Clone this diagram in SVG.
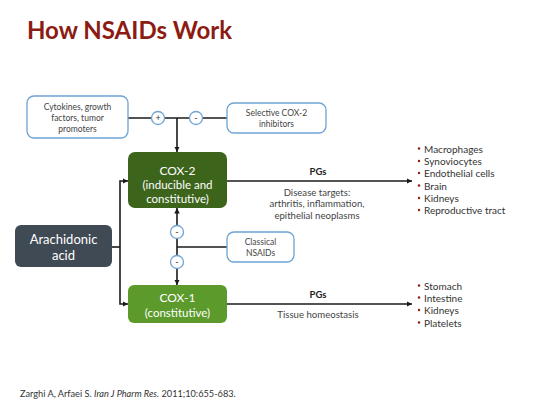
<svg xmlns="http://www.w3.org/2000/svg" width="540" height="405" viewBox="0 0 540 405">
<defs>
<style>
text{font-family:Lato,"Open Sans","Liberation Sans",sans-serif;fill:#333}
.title{font-size:25px;font-weight:bold;fill:#8C1C13}
.box{fill:#fff;stroke:#6FA3D3;stroke-width:1.3}
.sm{font-size:8.5px;text-anchor:middle;fill:#444}
.wt{fill:#fff;text-anchor:middle}
.lbl{font-size:9.6px;text-anchor:middle;fill:#444}
.pg{font-size:9.5px;font-weight:bold;text-anchor:middle;fill:#222}
.bl{font-size:10px;fill:#333}
.dot{fill:#8C1C13}
.ln{stroke:#1a1a1a;stroke-width:1.6;fill:none}
.circ{fill:#fff;stroke:#6FA3D3;stroke-width:1.3}
.sg{font-size:9px;text-anchor:middle;fill:#333}
.cite{font-size:9.2px;fill:#333}
</style>
<marker id="ah" viewBox="0 0 10 10" refX="10" refY="5" markerWidth="5.5" markerHeight="5.5" orient="auto-start-reverse" markerUnits="userSpaceOnUse">
<path d="M0,0 L10,5 L0,10 Z" fill="#1a1a1a"/>
</marker>
</defs>
<rect width="540" height="405" fill="#fff"/>
<text class="title" x="27" y="39" textLength="205" lengthAdjust="spacingAndGlyphs">How NSAIDs Work</text>

<g id="connectors">
<path class="ln" d="M128,118 H227"/>
<path class="ln" d="M177,118 V152" marker-end="url(#ah)"/>
<path class="ln" d="M112,247 H120"/>
<path class="ln" d="M128,181 H120 V304 H128" marker-start="url(#ah)" marker-end="url(#ah)"/>
<path class="ln" d="M177,208 V285" marker-start="url(#ah)" marker-end="url(#ah)"/>
<path class="ln" d="M177,247 H227"/>
<path class="ln" d="M227,181 H412" marker-end="url(#ah)"/>
<path class="ln" d="M227,304 H412" marker-end="url(#ah)"/>
</g>

<g id="plus1">
<circle class="circ" cx="158" cy="118" r="6.5"/>
<text class="sg" x="158" y="121.2">+</text>
</g>
<g id="minus1">
<circle class="circ" cx="196" cy="118" r="6.5"/>
<text class="sg" x="196" y="121">-</text>
</g>
<g id="minus2">
<circle class="circ" cx="177" cy="232" r="6.5"/>
<text class="sg" x="177" y="235">-</text>
</g>
<g id="minus3">
<circle class="circ" cx="177" cy="262" r="6.5"/>
<text class="sg" x="177" y="265">-</text>
</g>

<g id="cytokines">
<rect class="box" x="27" y="96" width="101" height="42" rx="7"/>
<text class="sm" x="77.5" y="109.5">Cytokines, growth</text>
<text class="sm" x="77.5" y="120.5">factors, tumor</text>
<text class="sm" x="77.5" y="131.5">promoters</text>
</g>

<g id="selective">
<rect class="box" x="227" y="103" width="99" height="30" rx="7"/>
<text class="sm" x="276.5" y="116">Selective COX-2</text>
<text class="sm" x="276.5" y="127">inhibitors</text>
</g>

<g id="cox2">
<rect x="128" y="152" width="99" height="56" rx="7" fill="#3D641B"/>
<text class="wt" x="177.5" y="174.5" font-size="12">COX-2</text>
<text class="wt" x="177.5" y="188.5" font-size="11.5">(inducible and</text>
<text class="wt" x="177.5" y="202.5" font-size="11.5">constitutive)</text>
</g>

<g id="arachidonic">
<rect x="15" y="225" width="97" height="42" rx="6" fill="#3F4A54"/>
<text class="wt" x="63.5" y="243.5" font-size="13">Arachidonic</text>
<text class="wt" x="63.5" y="259.5" font-size="13">acid</text>
</g>

<g id="classical">
<rect class="box" x="227" y="232" width="67" height="30" rx="7"/>
<text class="sm" x="260.5" y="245">Classical</text>
<text class="sm" x="260.5" y="256">NSAIDs</text>
</g>

<g id="cox1">
<rect x="128" y="285" width="99" height="38" rx="6" fill="#5B9A2B"/>
<text class="wt" x="177.5" y="301.5" font-size="12">COX-1</text>
<text class="wt" x="177.5" y="316.5" font-size="11.5">(constitutive)</text>
</g>

<g id="cox2-labels">
<text class="pg" x="318" y="175">PGs</text>
<text class="lbl" x="317" y="195.5">Disease targets:</text>
<text class="lbl" x="317" y="207">arthritis, inflammation,</text>
<text class="lbl" x="317" y="218.5">epithelial neoplasms</text>
</g>

<g id="cox2-targets">
<circle class="dot" cx="419" cy="148.5" r="1.2"/><text class="bl" x="424" y="152.5">Macrophages</text>
<circle class="dot" cx="419" cy="161" r="1.2"/><text class="bl" x="424" y="165">Synoviocytes</text>
<circle class="dot" cx="419" cy="173" r="1.2"/><text class="bl" x="424" y="177">Endothelial cells</text>
<circle class="dot" cx="419" cy="185.5" r="1.2"/><text class="bl" x="424" y="189.5">Brain</text>
<circle class="dot" cx="419" cy="198" r="1.2"/><text class="bl" x="424" y="202">Kidneys</text>
<circle class="dot" cx="419" cy="210" r="1.2"/><text class="bl" x="424" y="214">Reproductive tract</text>
</g>

<g id="cox1-labels">
<text class="pg" x="318" y="298">PGs</text>
<text class="lbl" x="318" y="317.5">Tissue homeostasis</text>
</g>

<g id="cox1-targets">
<circle class="dot" cx="419" cy="285.5" r="1.2"/><text class="bl" x="424" y="289.5">Stomach</text>
<circle class="dot" cx="419" cy="297.5" r="1.2"/><text class="bl" x="424" y="301.5">Intestine</text>
<circle class="dot" cx="419" cy="310" r="1.2"/><text class="bl" x="424" y="314">Kidneys</text>
<circle class="dot" cx="419" cy="322.5" r="1.2"/><text class="bl" x="424" y="326.5">Platelets</text>
</g>

<text class="cite" x="20" y="397">Zarghi A, Arfaei S. <tspan font-style="italic">Iran J Pharm Res.</tspan> 2011;10:655-683.</text>
</svg>
